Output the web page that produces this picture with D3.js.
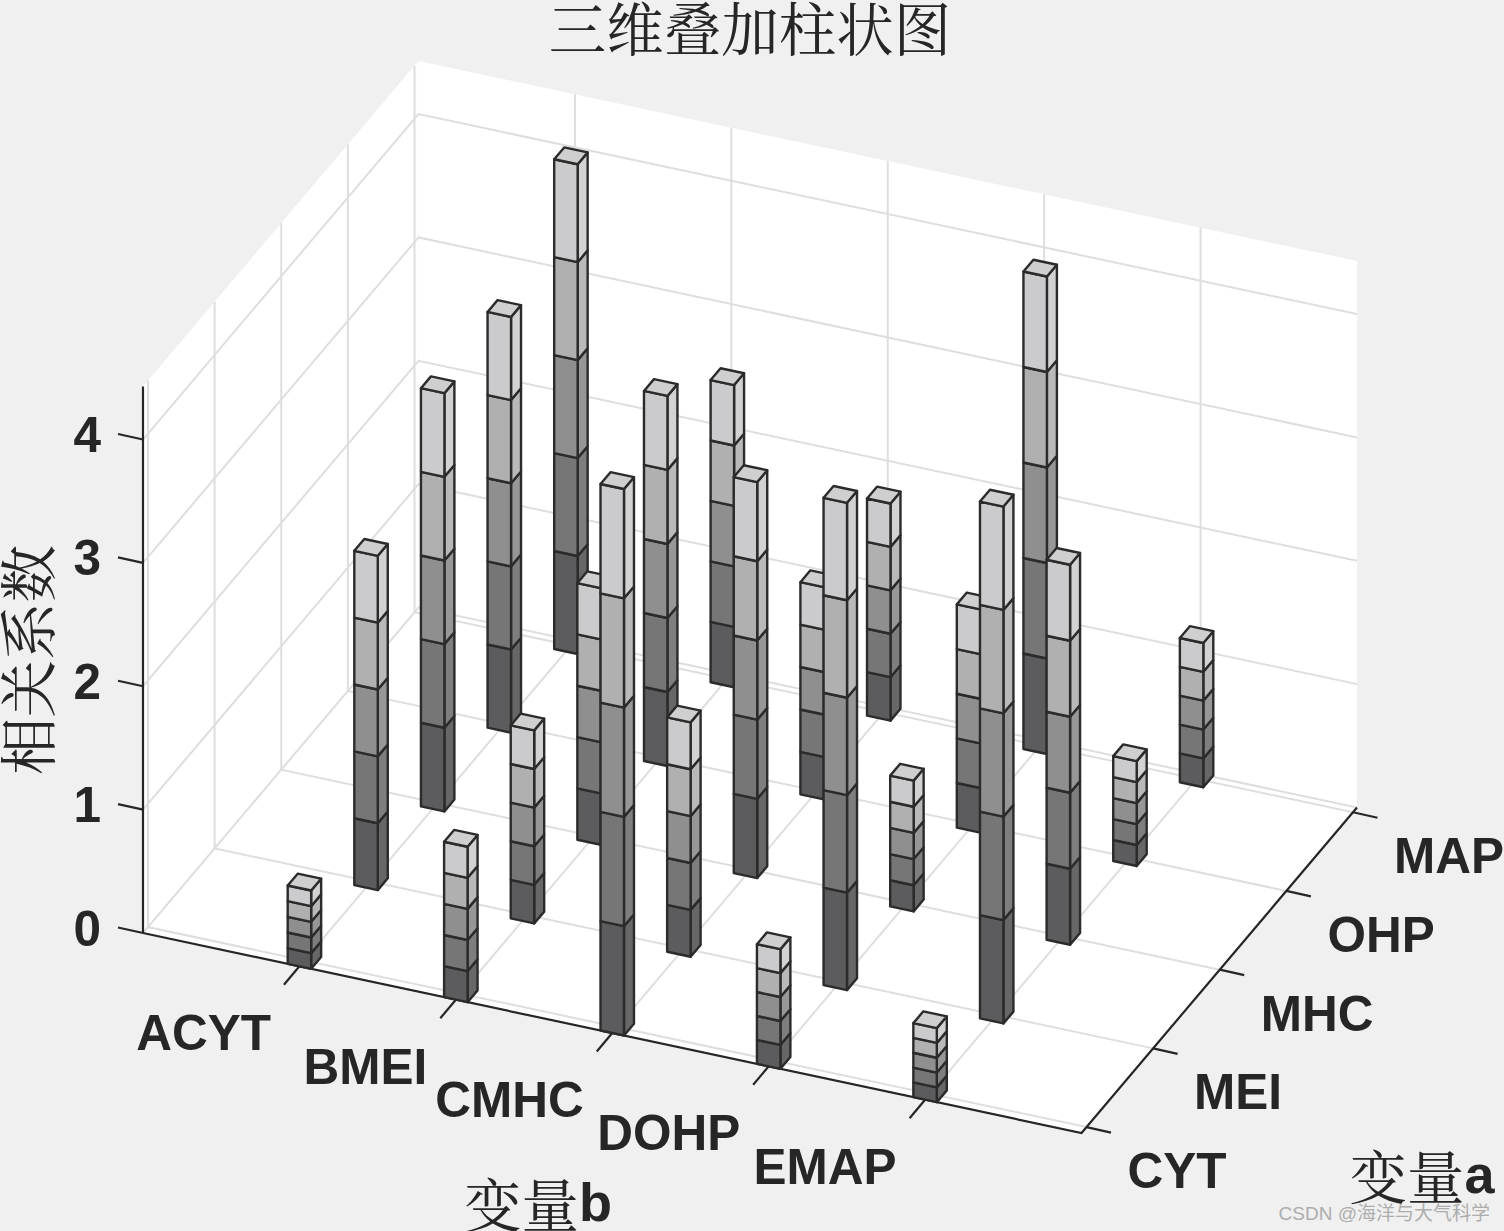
<!DOCTYPE html>
<html><head><meta charset="utf-8">
<script src="https://cdn.jsdelivr.net/npm/d3@7"></script>
<style>
html,body{margin:0;padding:0;background:#f0f0f0;}
svg{display:block;}
.tk{font-family:"Liberation Sans",Arial,sans-serif;font-weight:700;font-size:49.5px;fill:#262626;}
.cjk{font-family:"Noto Serif CJK SC","Noto Sans CJK SC",serif;font-weight:400;fill:#262626;font-size:57.5px;}
.lat{font-family:"Liberation Sans",Arial,sans-serif;font-weight:700;}
</style></head><body>
<div id="chart"></div>
<script>
// categories (rows along 变量a, columns along 变量b)
const catsB = ["ACYT","BMEI","CMHC","DOHP","EMAP"];
const catsA = ["CYT","MEI","MHC","OHP","MAP"];
const zTicks = [0,1,2,3,4];
const title = "三维叠加柱状图";
const zLabel = "相关系数";

// stacked series; each row is one 变量a value, columns follow 变量b
const series1 = [[.127,.252,.886,.194,.120],[.542,.313,.380,.790,.838],[.678,.416,.642,.212,.616],[.674,.600,.344,.362,.170],[.794,.490,.352,.774,.234]];
const series2 = [[.127,.252,.886,.194,.120],[.542,.313,.380,.790,.838],[.678,.416,.642,.212,.616],[.674,.600,.344,.362,.170],[.794,.490,.352,.774,.234]];
const series3 = [[.127,.252,.886,.194,.120],[.542,.313,.380,.790,.838],[.678,.416,.642,.212,.616],[.674,.600,.344,.362,.170],[.794,.490,.352,.774,.234]];
const series4 = [[.127,.252,.886,.194,.120],[.542,.313,.380,.790,.838],[.678,.416,.642,.212,.616],[.674,.600,.344,.362,.170],[.794,.490,.352,.774,.234]];
const series5 = [[.127,.252,.886,.194,.120],[.542,.313,.380,.790,.838],[.678,.416,.642,.212,.616],[.674,.600,.344,.362,.170],[.794,.490,.352,.774,.234]];
const allSeries = [series1,series2,series3,series4,series5];

const frontColors = ["#5c5c5e","#767677","#8f8f8f","#b0b0b0","#cbcbcd"];
const sideColors  = ["#676768","#7e7e7f","#979797","#b9b9b9","#d2d2d3"];
const capColor = "#cfcfd0";

const W=1504,H=1231;
const xLim=[0,6], yLim=[0.925,5.06], zLim=[0,4.43];
const barHalf=0.075;

// oblique projection built from three linear scales
const xSX=d3.scaleLinear().domain(xLim).range([0,938.5]), xSY=d3.scaleLinear().domain(xLim).range([0,200]);
const ySX=d3.scaleLinear().domain(yLim).range([0,275.5]), ySY=d3.scaleLinear().domain(yLim).range([0,-325.5]);
const zSY=d3.scaleLinear().domain(zLim).range([0,-546.5]);
const ox=143, oy=933;
const P=(x,y,z)=>[ox+xSX(x)+ySX(y), oy+xSY(x)+ySY(y)+zSY(z)];
const line=pts=>"M"+pts.map(p=>p.map(v=>v.toFixed(2)).join(",")).join("L");
const poly=pts=>line(pts)+"Z";

const svg=d3.select("#chart").append("svg").attr("width",W).attr("height",H).attr("viewBox",`0 0 ${W} ${H}`);
svg.append("rect").attr("width",W).attr("height",H).attr("fill","#f0f0f0");

const [x0,x1]=xLim,[y0,y1]=yLim,[z0,z1]=zLim;
// panes
svg.append("g").selectAll("path").data([
  [P(x0,y0,z0),P(x1,y0,z0),P(x1,y1,z0),P(x0,y1,z0)],
  [P(x0,y0,z0),P(x0,y0,z1),P(x0,y1,z1),P(x0,y1,z0)],
  [P(x0,y1,z0),P(x0,y1,z1),P(x1,y1,z1),P(x1,y1,z0)]
]).join("path").attr("d",poly).attr("fill","#fff");

// grid
const xT=d3.range(1,catsB.length+1), yT=d3.range(1,catsA.length+1);
const grid=[];
xT.forEach(x=>{grid.push([P(x,y0,0),P(x,y1,0),P(x,y1,z1)]);});
yT.forEach(y=>{grid.push([P(x1,y,0),P(x0,y,0),P(x0,y,z1)]);});
zTicks.forEach(z=>{grid.push([P(x0,y0,z),P(x0,y1,z),P(x1,y1,z)]);});
svg.append("g").selectAll("path").data(grid).join("path").attr("d",line)
  .attr("fill","none").attr("stroke","#dedede").attr("stroke-width",2);

// axes
const axisG=svg.append("g").attr("fill","none").attr("stroke","#262626").attr("stroke-width",2.2);
axisG.append("path").attr("d",line([P(x0,y0,z1),P(x0,y0,z0)]));
axisG.append("path").attr("d",line([P(x0,y0,0),P(x1,y0,0),P(x1,y1,0)]));
zTicks.forEach(z=>{const p=P(x0,y0,z);axisG.append("path").attr("d",line([p,[p[0]-25,p[1]-5.5]]));});
xT.forEach(x=>{const p=P(x,y0,0);axisG.append("path").attr("d",line([p,[p[0]-15.5,p[1]+18.5]]));});
yT.forEach(y=>{const p=P(x1,y,0);axisG.append("path").attr("d",line([p,[p[0]+24.5,p[1]+5.5]]));});

// bars, back rows first
const barsG=svg.append("g").attr("stroke","#2b2b2b").attr("stroke-width",2.4).attr("stroke-linejoin","round");
for(let a=catsA.length-1;a>=0;a--){
  for(let b=0;b<catsB.length;b++){
    const xa=b+1-barHalf, xb=b+1+barHalf, ya=a+1-barHalf, yb=a+1+barHalf;
    let base=0;
    allSeries.forEach((s,i)=>{
      const v=s[a][b], top=base+v;
      barsG.append("path").attr("d",poly([P(xb,ya,base),P(xb,yb,base),P(xb,yb,top),P(xb,ya,top)])).attr("fill",sideColors[i]);
      barsG.append("path").attr("d",poly([P(xa,ya,base),P(xb,ya,base),P(xb,ya,top),P(xa,ya,top)])).attr("fill",frontColors[i]);
      base=top;
    });
    barsG.append("path").attr("d",poly([P(xa,ya,base),P(xb,ya,base),P(xb,yb,base),P(xa,yb,base)])).attr("fill",capColor);
  }
}

// tick labels
const tk=svg.append("g");
zTicks.forEach(z=>{const p=P(x0,y0,z);
  tk.append("text").attr("class","tk").attr("x",p[0]-42).attr("y",p[1]-5).attr("text-anchor","end").attr("dominant-baseline","central").text(z);});
catsB.forEach((c,i)=>{const p=P(i+1,y0,0);
  tk.append("text").attr("class","tk").attr("x",p[0]-28.5).attr("y",p[1]+66.5).attr("text-anchor","end").attr("dominant-baseline","central").text(c);});
catsA.forEach((c,i)=>{const p=P(x1,i+1,0);
  tk.append("text").attr("class","tk").attr("x",p[0]+41).attr("y",p[1]+43.5).attr("text-anchor","start").attr("dominant-baseline","central").text(c);});

// titles
svg.append("text").attr("class","cjk").attr("x",750).attr("y",26).attr("text-anchor","middle").attr("dominant-baseline","central").text(title);
svg.append("text").attr("class","cjk").attr("transform","translate(25,660) rotate(-90)").attr("text-anchor","middle").attr("dominant-baseline","central").text(zLabel);
const lb=svg.append("text").attr("class","cjk").attr("x",538).attr("y",1202).attr("text-anchor","middle").attr("dominant-baseline","central");
lb.append("tspan").text("变量"); lb.append("tspan").attr("class","lat").attr("font-size",54).text("b");
const la=svg.append("text").attr("class","cjk").attr("x",1422).attr("y",1174).attr("text-anchor","middle").attr("dominant-baseline","central");
la.append("tspan").text("变量"); la.append("tspan").attr("class","lat").attr("font-size",54).text("a");

svg.append("text").attr("x",1490).attr("y",1213).attr("text-anchor","end").attr("dominant-baseline","central")
  .attr("font-family",'"Liberation Sans","Noto Sans CJK SC",sans-serif').attr("font-size",19).attr("fill","#adadad").text("CSDN @海洋与大气科学");
</script></body></html>
